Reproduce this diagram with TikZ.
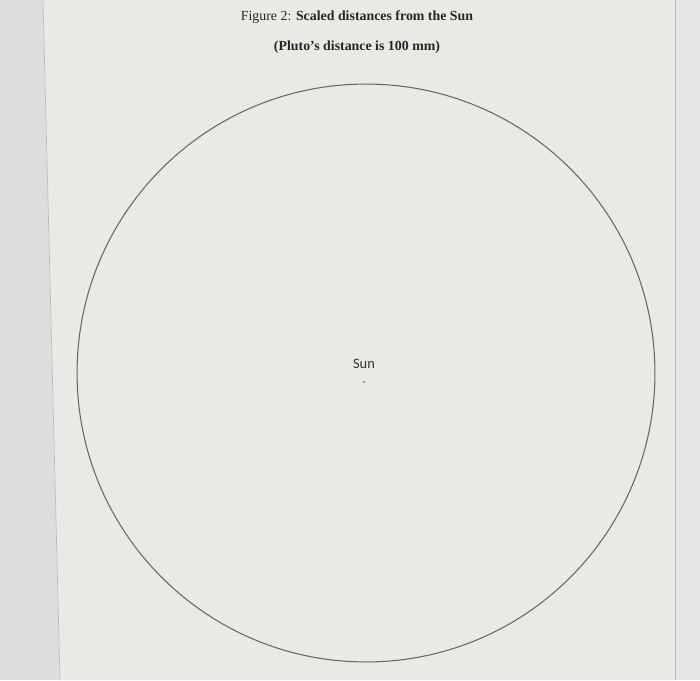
\documentclass[tikz,border=0pt]{standalone}
\usepackage{fontspec}
\setmainfont{Liberation Serif}
\newfontfamily\sunfont{Carlito}
\usetikzlibrary{positioning}

\definecolor{deskgray}{RGB}{221,221,222}
\definecolor{sheet}{RGB}{234,233,230}
\definecolor{rightgray}{RGB}{228,229,231}

\begin{document}
\begin{tikzpicture}[x=0.02cm, y=-0.02cm]

  % Define styles
  \tikzset{
    desk/.style={fill=deskgray},
    page/.style={fill=sheet},
    pageedge/.style={draw=black!25, line width=0.4pt},
    orbit/.style={draw=black!60, line width=0.6pt},
    title/.style={font=\fontsize{7.9}{9.5}\selectfont, text=black!85},
    sunlabel/.style={font=\sunfont\fontsize{8.2}{10}\selectfont, text=black!80}
  }

  \useasboundingbox (0,0) rectangle (700,680);

  %% Background: desk and sheet of paper
  \fill[desk] (0,0) rectangle (700,680);
  \fill[rightgray] (675,0) rectangle (700,680);
  \fill[page] (43,0) -- (675,0) -- (675,680) -- (60,680) -- cycle;
  \draw[pageedge] (43,0) -- (60,680);
  \draw[pageedge] (675,0) -- (675,680);

  %% Title lines
  \node[title] (fig) at (357,17) {Figure 2: \textbf{Scaled distances from the Sun}};
  \node[title] (pluto) at (357,47) {\textbf{(Pluto's distance is 100 mm)}};

  %% Orbit of Pluto round the Sun
  \coordinate (centre) at (366,373);
  \draw[orbit] (centre) circle[radius=5.78cm];

  % Sun label and centre mark
  \node[sunlabel] (sun) at (364,364) {Sun};
  \fill[black!45] (364,382) circle[radius=0.6pt];

\end{tikzpicture}
\end{document}
